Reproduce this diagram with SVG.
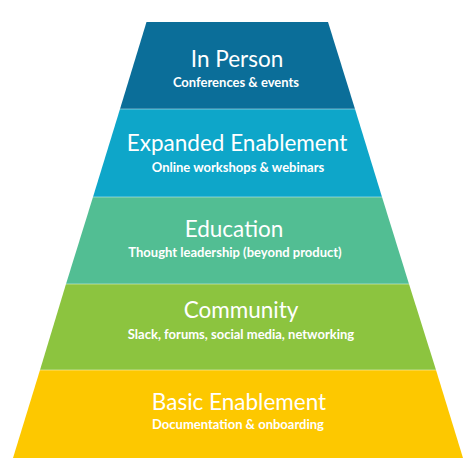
<svg xmlns="http://www.w3.org/2000/svg" width="474" height="474" viewBox="0 0 474 474">
<style>
.t{font-family:Lato,"Open Sans","Liberation Sans",sans-serif;font-weight:400;font-size:22.5px;fill:#fff;text-anchor:middle}
.s{font-family:Lato,"Open Sans","Liberation Sans",sans-serif;font-weight:700;font-size:13px;fill:#fff;text-anchor:middle}
.sep{stroke:#ffffff;stroke-opacity:0.45;stroke-width:1}
</style>
<rect width="474" height="474" fill="#fff"/>
<g id="in-person">
<polygon points="146.5,22 328,22 355,109 120,109" fill="#0b6e99"/>
<text class="t" x="237" y="67">In Person</text>
<text class="s" x="236" y="87">Conferences &amp; events</text>
</g>
<g id="expanded-enablement">
<polygon points="120,109 355,109 382,197 93,197" fill="#0ea6c9"/>
<text class="t" x="237" y="151">Expanded Enablement</text>
<text class="s" x="238" y="172">Online workshops &amp; webinars</text>
</g>
<g id="education">
<polygon points="93,197 382,197 409,284 66,284" fill="#52be93"/>
<text class="t" x="234" y="237">Education</text>
<text class="s" x="235" y="257">Thought leadership (beyond product)</text>
</g>
<g id="community">
<polygon points="66,284 409,284 436,370 40,370" fill="#8cc43f"/>
<text class="t" x="241" y="318">Community</text>
<text class="s" x="241" y="339">Slack, forums, social media, networking</text>
</g>
<g id="basic-enablement">
<polygon points="40,370 436,370 463,458 13,458" fill="#fdc800"/>
<text class="t" x="239" y="410">Basic Enablement</text>
<text class="s" x="238" y="429">Documentation &amp; onboarding</text>
</g>
<g id="separators">
<line class="sep" x1="120" y1="109" x2="355" y2="109"/>
<line class="sep" x1="93" y1="197" x2="382" y2="197"/>
<line class="sep" x1="66" y1="284" x2="409" y2="284"/>
<line class="sep" x1="40" y1="370" x2="436" y2="370"/>
</g>
</svg>
